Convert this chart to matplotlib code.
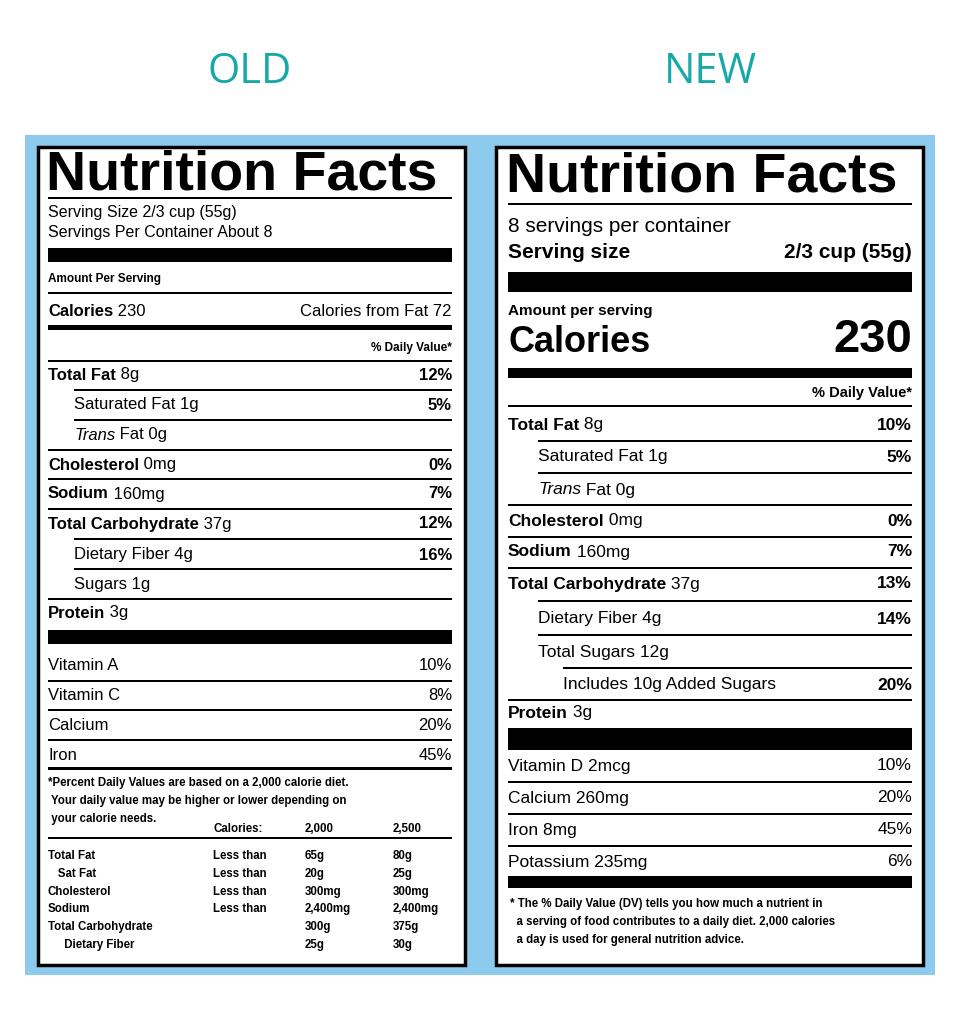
import matplotlib
matplotlib.use("Agg")
import matplotlib.pyplot as plt
from matplotlib.patches import Rectangle

# ---------------- data ----------------
titles = ["OLD", "NEW"]

old_serving = ["Serving Size 2/3 cup (55g)", "Servings Per Container About 8"]
old_calories = 230
old_cal_fat = 72
old_nutr_bold = ["Total Fat", "", "", "Cholesterol", "Sodium", "Total Carbohydrate", "", "", "Protein"]
old_nutr_reg = [" 8g", "Saturated Fat 1g", "Trans Fat 0g", " 0mg", " 160mg", " 37g", "Dietary Fiber 4g", "Sugars 1g", " 3g"]
old_nutr_pct = ["12%", "5%", "", "0%", "7%", "12%", "16%", "", ""]
old_vit_names = ["Vitamin A", "Vitamin C", "Calcium", "Iron"]
old_vit_pct = ["10%", "8%", "20%", "45%"]
old_foot = ["*Percent Daily Values are based on a 2,000 calorie diet.",
            " Your daily value may be higher or lower depending on",
            " your calorie needs."]
old_tbl_names = ["Total Fat", "   Sat Fat", "Cholesterol", "Sodium", "Total Carbohydrate", "     Dietary Fiber"]
old_tbl_less = ["Less than", "Less than", "Less than", "Less than", "", ""]
old_tbl_2000 = ["65g", "20g", "300mg", "2,400mg", "300g", "25g"]
old_tbl_2500 = ["80g", "25g", "300mg", "2,400mg", "375g", "30g"]

new_servings = "8 servings per container"
new_size = "2/3 cup (55g)"
new_calories = 230
new_nutr_bold = ["Total Fat", "", "", "Cholesterol", "Sodium", "Total Carbohydrate", "", "", "", "Protein"]
new_nutr_reg = [" 8g", "Saturated Fat 1g", "Trans Fat 0g", " 0mg", " 160mg", " 37g",
                "Dietary Fiber 4g", "Total Sugars 12g", "Includes 10g Added Sugars", " 3g"]
new_nutr_pct = ["10%", "5%", "", "0%", "7%", "13%", "14%", "", "20%", ""]
new_vit_names = ["Vitamin D 2mcg", "Calcium 260mg", "Iron 8mg", "Potassium 235mg"]
new_vit_pct = ["10%", "20%", "45%", "6%"]
new_foot = ["* The % Daily Value (DV) tells you how much a nutrient in",
            "  a serving of food contributes to a daily diet. 2,000 calories",
            "  a day is used for general nutrition advice."]

# ---------------- figure ----------------
W, H = 960, 1024
fig = plt.figure(figsize=(W / 100, H / 100), dpi=100)
ax = fig.add_axes([0, 0, 1, 1])
ax.set_xlim(0, W)
ax.set_ylim(H, 0)
ax.axis("off")
FF = ["Liberation Sans", "DejaVu Sans"]
renderer = fig.canvas.get_renderer()


def txt(x, y, s, size=12, weight="normal", ha="left", style="normal", color="black", family=FF):
    return ax.text(x, y, s, fontsize=size, fontweight=weight, ha=ha, va="center",
                   fontstyle=style, color=color, family=family)


def width(t):
    return t.get_window_extent(renderer=renderer).width


def mixed(x, y, b, r, size):
    if b:
        t = txt(x, y, b, size, "heavy")
        x += width(t)
    if r:
        txt(x, y, r, size)


def trans(x, y, size):
    t = txt(x, y, "Trans", size, style="italic")
    txt(x + width(t), y, " Fat 0g", size)


def hline(x0, x1, y, lw):
    ax.add_patch(Rectangle((x0, y - lw / 2), x1 - x0, lw, color="black", lw=0))


TEAL = "#17a9a7"
txt(250, 72, titles[0], 30, ha="center", color=TEAL, family=["Open Sans", "DejaVu Sans"])
txt(710, 72, titles[1], 30, ha="center", color=TEAL, family=["Open Sans", "DejaVu Sans"])

ax.add_patch(Rectangle((25, 135), 910, 840, color="#8dcbee", lw=0))
for x0 in (38, 496):
    ax.add_patch(Rectangle((x0, 147), 427, 818, facecolor="white", edgecolor="black", lw=2.5))

# ---------------- OLD ----------------
L, R = 48, 452
txt(L - 2, 176, "Nutrition Facts", 40, "heavy")
hline(L, R, 198, 1.5)
txt(L, 212, old_serving[0], 11.5)
txt(L, 233, old_serving[1], 11.5)
hline(L, R, 255, 14)
txt(L, 279, "Amount Per Serving", 8.5, "heavy")
hline(L, R, 293, 1.5)
mixed(L, 311, "Calories", f" {old_calories}", 12)
txt(R, 311, f"Calories from Fat {old_cal_fat}", 12, ha="right")
hline(L, R, 327, 5)
txt(R, 348, "% Daily Value*", 8.5, "heavy", ha="right")
hline(L, R, 361, 1.5)
ys = [375, 405, 435, 465, 494, 524, 555, 584, 613]
line_y = [390, 420, 450, 479, 509, 539, 569, 599]
for i, (b, r, p) in enumerate(zip(old_nutr_bold, old_nutr_reg, old_nutr_pct)):
    ind = 74 if not b else L
    if r.startswith("Trans"):
        trans(ind, ys[i], 12)
    else:
        mixed(ind, ys[i], b, r.strip() if not b else r, 12)
    if p:
        txt(R, ys[i], p, 12, "heavy", ha="right")
    if i < len(line_y):
        nxt_indent = not old_nutr_bold[i + 1]
        hline(74 if nxt_indent else L, R, line_y[i], 1.5)
hline(L, R, 637, 14)
vy = [666, 695, 725, 755]
for i, (n, p) in enumerate(zip(old_vit_names, old_vit_pct)):
    txt(L, vy[i], n, 12)
    txt(R, vy[i], p, 12, ha="right")
    if i < 3:
        hline(L, R, vy[i] + 15, 1.5)
hline(L, R, 768, 3)
for i, s in enumerate(old_foot):
    txt(L, 783 + 18 * i, s, 8.3, "heavy")
txt(213, 829, "Calories:", 8.3, "heavy")
txt(305, 829, "2,000", 8.3, "heavy")
txt(393, 829, "2,500", 8.3, "heavy")
hline(L, R, 838, 2.5)
for i in range(6):
    y = 856 + 17.8 * i
    txt(L, y, old_tbl_names[i], 8.3, "heavy")
    txt(213, y, old_tbl_less[i], 8.3, "heavy")
    txt(305, y, old_tbl_2000[i], 8.3, "heavy")
    txt(393, y, old_tbl_2500[i], 8.3, "heavy")

# ---------------- NEW ----------------
L, R = 508, 912
txt(L - 2, 178, "Nutrition Facts", 40, "heavy")
hline(L, R, 204, 1.5)
txt(L, 226, new_servings, 15)
txt(L, 252, "Serving size", 15, "heavy")
txt(R, 252, new_size, 15, "heavy", ha="right")
hline(L, R, 282, 20)
txt(L, 311, "Amount per serving", 11, "heavy")
txt(L, 342, "Calories", 26, "heavy")
txt(R, 340, str(new_calories), 34, "heavy", ha="right")
hline(L, R, 373, 10)
txt(R, 393, "% Daily Value*", 10.5, "heavy", ha="right")
hline(L, R, 406, 1.5)
ys = [425, 457, 490, 521, 552, 584, 619, 653, 685, 713]
line_y = [441, 473, 505, 537, 568, 601, 635, 668, 700]
indents = [L, 538, 538, L, L, L, 538, 538, 563, L]
for i, (b, r, p) in enumerate(zip(new_nutr_bold, new_nutr_reg, new_nutr_pct)):
    ind = indents[i]
    if r.startswith("Trans"):
        trans(ind, ys[i], 12.5)
    else:
        mixed(ind, ys[i], b, r.strip() if not b else r, 12.5)
    if p:
        txt(R, ys[i], p, 12.5, "heavy", ha="right")
    if i < len(line_y):
        hline(indents[i + 1], R, line_y[i], 1.8 if i == 0 else 1.5)
hline(L, R, 739, 22)
vy = [766, 798, 830, 862]
for i, (n, p) in enumerate(zip(new_vit_names, new_vit_pct)):
    txt(L, vy[i], n, 12.5)
    txt(R, vy[i], p, 12.5, ha="right")
    if i < 3:
        hline(L, R, vy[i] + 16, 1.5)
hline(L, R, 882, 12)
for i, s in enumerate(new_foot):
    txt(L + 2, 904 + 18 * i, s, 8.3, "heavy")

fig.savefig("out.png", dpi=100)
